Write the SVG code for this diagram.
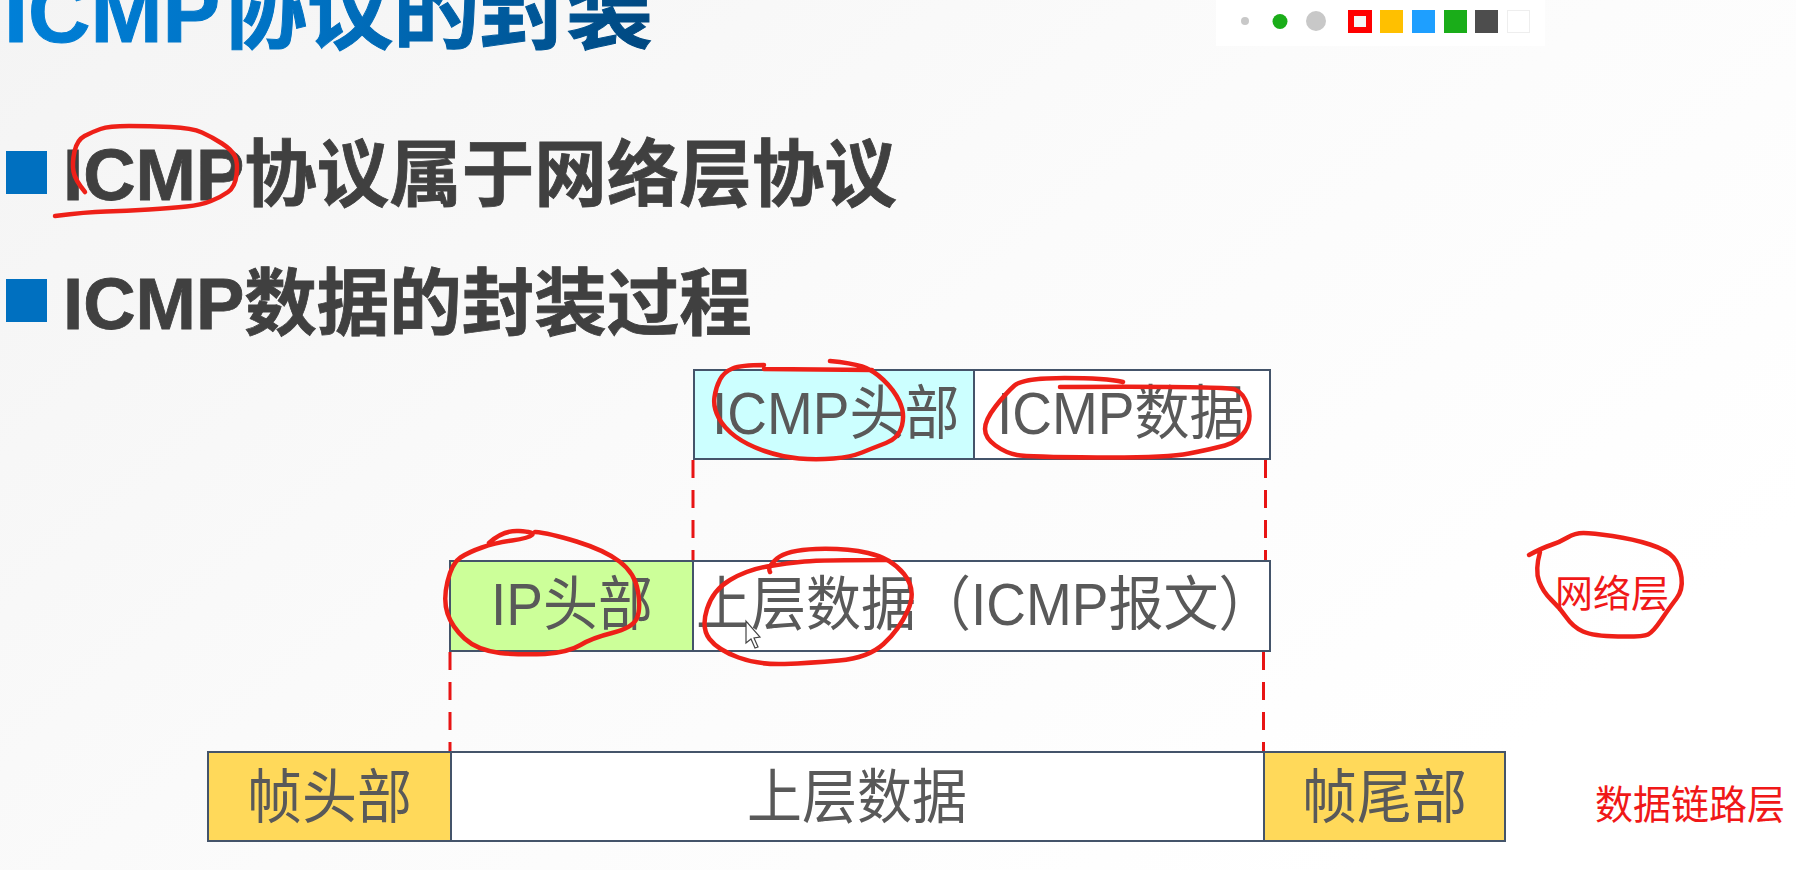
<svg xmlns="http://www.w3.org/2000/svg" width="1796" height="870" viewBox="0 0 1796 870">
<style>
text{font-family:"Liberation Sans","Noto Sans CJK SC",sans-serif}
.h{font-size:72.500px;font-weight:700;fill:#404040;stroke:#404040;stroke-width:.8}
.l{font-size:55px;fill:#595959}
.r{font-size:38px;fill:#f01818}
.b{stroke:#44546a;stroke-width:2}
.d{fill:none;stroke:#e81414;stroke-width:3;stroke-dasharray:18 12}
.s{fill:none;stroke:#ee2018;stroke-width:4.500;stroke-linejoin:round;stroke-linecap:round}
</style>
<defs>
<linearGradient id="bg" x1="0" y1="0" x2="1" y2="0.6"><stop offset="0" stop-color="#f4f4f4"/><stop offset="0.55" stop-color="#fbfbfb"/><stop offset="1" stop-color="#ffffff"/></linearGradient>
<linearGradient id="tg" gradientUnits="userSpaceOnUse" x1="0" y1="0" x2="650" y2="50"><stop offset="0" stop-color="#0080d8"/><stop offset="0.5" stop-color="#0070c0"/><stop offset="1" stop-color="#004880"/></linearGradient>
</defs>
<rect width="1796" height="870" fill="url(#bg)"/>
<g id="title"><text x="4" y="42" font-size="86.500" font-weight="700" fill="url(#tg)" stroke="url(#tg)" stroke-width="1">ICMP协议的封装</text></g>
<g id="toolbar">
<rect x="1216" y="0" width="329" height="46" fill="#fff"/>
<circle cx="1245" cy="21" r="4" fill="#c8c8c8"/>
<circle cx="1280" cy="21.500" r="7.500" fill="#1aad19"/>
<circle cx="1316" cy="21" r="10" fill="#c8c8c8"/>
<rect x="1351" y="13" width="18" height="17" fill="#f5f5f5" stroke="#ff0000" stroke-width="6"/>
<rect x="1380" y="10" width="23" height="23" fill="#ffc000"/>
<rect x="1412" y="10" width="23" height="23" fill="#1e9fff"/>
<rect x="1444" y="10" width="23" height="23" fill="#1aad19"/>
<rect x="1475" y="10" width="23" height="23" fill="#4d4d4d"/>
<rect x="1507.500" y="10.500" width="22" height="22" fill="#fff" stroke="#eeeeee"/>
</g>
<g id="bullet1"><rect x="6" y="151" width="41" height="43" fill="#0070c0"/><text class="h" x="63" y="200">ICMP协议属于网络层协议</text></g>
<g id="bullet2"><rect x="6" y="279" width="41" height="43" fill="#0070c0"/><text class="h" x="63" y="329">ICMP数据的封装过程</text></g>
<g id="connectors">
<line class="d" x1="693" y1="460" x2="693" y2="561"/>
<line class="d" x1="1265.500" y1="460" x2="1265.500" y2="561"/>
<line class="d" x1="450" y1="652" x2="450" y2="752"/>
<line class="d" x1="1263.500" y1="652" x2="1263.500" y2="752"/>
</g>
<g id="icmp-header"><rect class="b" x="694" y="370" width="280" height="89" fill="#ccffff"/><text class="l" transform="translate(712 434) scale(1 1.08)">ICMP头部</text></g>
<g id="icmp-data"><rect class="b" x="974" y="370" width="296" height="89" fill="#fff"/><text class="l" transform="translate(997 434) scale(1 1.08)">ICMP数据</text></g>
<g id="ip-header"><rect class="b" x="450" y="561" width="243" height="90" fill="#ccff99"/><text class="l" transform="translate(491 625) scale(1 1.08)">IP头部</text></g>
<g id="ip-data"><rect class="b" x="693" y="561" width="577" height="90" fill="#fff"/><text class="l" transform="translate(696 625) scale(1 1.08)">上层数据（ICMP报文）</text></g>
<g id="frame-header"><rect class="b" x="208" y="752" width="243" height="89" fill="#ffd95a"/><text class="l" transform="translate(247 818) scale(1 1.08)">帧头部</text></g>
<g id="frame-data"><rect class="b" x="451" y="752" width="813" height="89" fill="#fff"/><text class="l" transform="translate(747 818) scale(1 1.08)">上层数据</text></g>
<g id="frame-tail"><rect class="b" x="1264" y="752" width="241" height="89" fill="#ffd95a"/><text class="l" transform="translate(1302 818) scale(1 1.08)">帧尾部</text></g>
<g id="label-network"><text class="r" x="1555" y="607">网络层</text></g>
<g id="label-link"><text class="r" transform="translate(1595 819) scale(1 1.05)">数据链路层</text></g>
<g id="cursor"><path d="M746 621L746 643L751 639L755 648L758 647L754 638L760 637Z" fill="#fff" stroke="#444" stroke-width="1.200"/></g>
<g id="annotations">
<path class="s" d="M85 192Q75 180 73.500 171.500Q72 163 74.500 151.500Q77 140 84.500 136Q92 132 100.500 129Q109 126 129 126Q149 126 170.500 127Q192 128 202 132.500Q212 137 222 143.500Q232 150 235 156.500Q238 163 236.500 175Q235 187 228 192Q221 197 211 201Q201 205 186.500 206.500Q172 208 149 209.500Q126 211 106 211.500Q86 212 55 216"/>
<path class="s" d="M764 365Q741 365 732.500 368.500Q724 372 720 379.500Q716 387 714.500 397Q713 407 718.500 417.500Q724 428 735.500 436.500Q747 445 764.500 451Q782 457 799 458.500Q816 460 833.500 458.500Q851 457 862 452.500Q873 448 886 443Q899 438 902 425.500Q905 413 899.500 401.500Q894 390 883.500 380Q873 370 862 366.500Q851 363 830 361M764 369L872 370"/>
<path class="s" d="M1123 382Q1106 378 1064.500 378Q1023 378 1014.500 385.500Q1006 393 995.500 406.500Q985 420 985 429Q985 438 995.500 445.500Q1006 453 1017 455Q1028 457 1097 457.500Q1166 458 1189 453.500Q1212 449 1225 445.500Q1238 442 1245 431Q1252 420 1248 406.500Q1244 393 1235 389.500Q1226 386 1060 387"/>
<path class="s" d="M489 543Q503 530 519 531Q535 532 532 535Q529 538 512 540.500Q495 543 482 547.500Q469 552 460.500 557.500Q452 563 447.500 581.500Q443 600 447.500 613.500Q452 627 464.500 638.500Q477 650 500 653Q520 655 545 654Q569 652 580.500 645Q592 638 612 633Q632 628 636.500 619Q641 610 638 591.500Q635 573 619.500 561.500Q604 550 576.500 541.500Q549 533 535 532"/>
<path class="s" d="M770 572Q767 567 777 558.500Q787 550 816 549Q845 548 868 553Q891 558 904 574Q917 590 908 610Q899 630 883.500 644Q868 658 839 660.500Q810 663 784.500 664Q759 665 738.500 657.500Q718 650 709.500 639Q701 628 707 609Q713 590 730 580Q747 570 767 566.500Q787 563 804.500 561.500Q822 560 885 560"/>
<path class="s" d="M1529 555Q1542 548 1551 545Q1560 542 1567.500 537.500Q1575 533 1583.500 533Q1592 533 1612.500 536Q1633 539 1650 544.500Q1667 550 1673.500 557.500Q1680 565 1681.500 577.500Q1683 590 1676.500 598.500Q1670 607 1661.500 619.500Q1653 632 1648 634.500Q1643 637 1618 636.500Q1593 636 1583 631.500Q1573 627 1566.500 617.500Q1560 608 1551.500 600Q1543 592 1539 581Q1535 570 1540 552"/>
</g>
</svg>
